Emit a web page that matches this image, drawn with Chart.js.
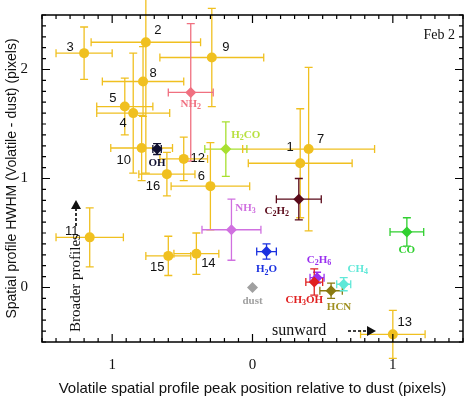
<!DOCTYPE html>
<html><head><meta charset="utf-8">
<script src="https://cdn.jsdelivr.net/npm/chart.js@4"></script>
<style>body{margin:0;background:#fff}#w{width:474px;height:402px}</style>
</head><body><div id="w"><canvas id="c"></canvas></div>
<script>
const names = ["3","2","9","8","NH2","5","4","10","OH","12","H2CO","16","6","7","1","C2H2","NH3","11","15","14","H2O","dust","C2H6","CH3OH","HCN","CH4","CO","13"];
const xs =   [1.2,0.76,0.29,0.78,0.44,0.91,0.85,0.79,0.68,0.49,0.19,0.61,0.3,-0.4,-0.34,-0.33,0.15,1.16,0.6,0.4,-0.1,0,-0.46,-0.44,-0.56,-0.65,-1.1,-1.0];
const ys =   [2.15,2.25,2.11,1.89,1.79,1.66,1.6,1.28,1.27,1.18,1.27,1.04,0.93,1.27,1.14,0.81,0.53,0.46,0.29,0.31,0.33,0,0.09,0.05,-0.03,0.03,0.51,-0.43];
const xerr = [0.2,0.39,0.37,0.29,0.16,0.2,0.26,0.22,0.03,0.17,0.15,0.2,0.28,0.47,0.37,0.16,0.21,0.24,0.16,0.16,0.07,0,0.05,0.06,0.08,0.05,0.12,0.23];
const yerr = [0.24,1.2,0.45,0.32,0.63,0.26,0.55,0.3,0.05,0.2,0.25,0.2,0.4,0.75,0.5,0.19,0.28,0.27,0.18,0.19,0.07,0,0.05,0.12,0.07,0.06,0.13,0.22];
const xTicks = [1,0,-1];
const yTicks = [0,1,2];
const Y = '#f0c020';
const colors = [Y,Y,Y,Y,'#f07080',Y,Y,Y,'#101030',Y,'#a8e030',Y,Y,Y,Y,'#5a0a1a','#d070e0',Y,Y,Y,'#1a30e0','#a0a0a0','#9a30f0','#e02020','#8a7a10','#60e8d8','#30d030',Y];
const labelPos = {"3":[-14,-6],"2":[12,-12],"9":[14,-10],"8":[10,-8],"5":[-12,-8],"4":[-10,10],"10":[-18,12],"12":[14,0],"16":[-14,12],"6":[-9,-10],"7":[12,-10],"1":[-10,-16],"11":[-18,-6],"15":[-11,12],"14":[12,10],"13":[12,-12],
 "NH2":[0,12],"OH":[0,14],"H2CO":[20,-14],"C2H2":[-22,12],"NH3":[14,-22],"H2O":[0,18],"dust":[0,14],"C2H6":[2,-18],"CH3OH":[-10,18],"HCN":[8,16],"CH4":[14,-15],"CO":[0,18]};
const chemColors = {"NH2":'#f07080',"OH":'#101030',"H2CO":'#b8e040',"C2H2":'#5a0a1a',"NH3":'#d070e0',"H2O":'#1a30e0',"dust":'#a0a0a0',"C2H6":'#9a30f0',"CH3OH":'#e02020',"HCN":'#a09020',"CH4":'#60e8d8',"CO":'#30d030'};

function drawChem(ctx, s, x, y, col){
  ctx.fillStyle = col;
  const parts = s.match(/[A-Za-z]+|\d+/g);
  let w = 0; parts.forEach(p=>{ctx.font = /\d/.test(p)?'bold 8px "Liberation Serif"':'bold 11px "Liberation Serif"'; w+=ctx.measureText(p).width;});
  let cx = x - w/2;
  ctx.textAlign='left'; ctx.textBaseline='middle';
  parts.forEach(p=>{const sub=/\d/.test(p); ctx.font = sub?'bold 8px "Liberation Serif"':'bold 11px "Liberation Serif"'; ctx.fillText(p,cx,y+(sub?3:0)); cx+=ctx.measureText(p).width;});
}

const deco = {
  id:'deco',
  beforeDatasetsDraw(chart){
    const {ctx, scales:{x,y}} = chart;
    ctx.save(); ctx.lineWidth=1.3;
    for(let i=0;i<names.length;i++){
      if(names[i]==='dust') continue;
      const px=x.getPixelForValue(xs[i]), py=y.getPixelForValue(ys[i]);
      const x1=x.getPixelForValue(xs[i]-xerr[i]), x2=x.getPixelForValue(xs[i]+xerr[i]);
      const y1=y.getPixelForValue(ys[i]-yerr[i]), y2=y.getPixelForValue(ys[i]+yerr[i]);
      ctx.strokeStyle=colors[i]; ctx.beginPath();
      ctx.moveTo(x1,py);ctx.lineTo(x2,py);ctx.moveTo(px,y1);ctx.lineTo(px,y2);
      ctx.moveTo(x1,py-4);ctx.lineTo(x1,py+4);ctx.moveTo(x2,py-4);ctx.lineTo(x2,py+4);
      ctx.moveTo(px-4,y1);ctx.lineTo(px+4,y1);ctx.moveTo(px-4,y2);ctx.lineTo(px+4,y2);
      ctx.stroke();
    }
    ctx.restore();
  },
  afterDraw(chart){
    const {ctx, chartArea:a, scales:{x,y}} = chart;
    ctx.save();
    ctx.strokeStyle='#000'; ctx.lineWidth=1.5; ctx.strokeRect(a.left,a.top,a.right-a.left,a.bottom-a.top);
    ctx.lineWidth=1.2; ctx.beginPath();
    for(let k=-15;k<=15;k++){const v=k/10,p=x.getPixelForValue(v),L=(k%10===0)?8:4;
      ctx.moveTo(p,a.bottom);ctx.lineTo(p,a.bottom-L);ctx.moveTo(p,a.top);ctx.lineTo(p,a.top+L);}
    for(let k=-5;k<=25;k++){const v=k/10,p=y.getPixelForValue(v),L=(k%10===0)?8:4;
      ctx.moveTo(a.left,p);ctx.lineTo(a.left+L,p);ctx.moveTo(a.right,p);ctx.lineTo(a.right-L,p);}
    ctx.stroke();
    for(let i=0;i<names.length;i++){
      const n=names[i],px=x.getPixelForValue(xs[i]),py=y.getPixelForValue(ys[i]),o=labelPos[n];
      if(!o) continue;
      if(chemColors[n]) drawChem(ctx,n,px+o[0],py+o[1],chemColors[n]);
      else {ctx.fillStyle='#111';ctx.font='13px "Liberation Sans"';ctx.textAlign='center';ctx.textBaseline='middle';ctx.fillText(n,px+o[0],py+o[1]);}
    }
    ctx.fillStyle='#111';ctx.font='14px "Liberation Serif"';ctx.textAlign='right';ctx.textBaseline='middle';
    ctx.fillText('Feb 2',a.right-8,a.top+20);
    ctx.font='16px "Liberation Serif"';ctx.textAlign='left';
    ctx.fillText('sunward',272,331);
    ctx.setLineDash([3,2]);ctx.lineWidth=1.6;ctx.beginPath();ctx.moveTo(348,331);ctx.lineTo(368,331);ctx.stroke();
    ctx.setLineDash([]);ctx.beginPath();ctx.moveTo(376,331);ctx.lineTo(367,326);ctx.lineTo(367,336);ctx.closePath();ctx.fill();
    ctx.save();ctx.translate(76,332);ctx.rotate(-Math.PI/2);ctx.font='15px "Liberation Serif"';ctx.textAlign='left';
    ctx.fillText('Broader profiles',0,0);
    const tw=ctx.measureText('Broader profiles').width;
    ctx.setLineDash([3,2]);ctx.beginPath();ctx.moveTo(tw+8,0);ctx.lineTo(tw+26,0);ctx.stroke();
    ctx.setLineDash([]);ctx.beginPath();ctx.moveTo(tw+34,0);ctx.lineTo(tw+25,-5);ctx.lineTo(tw+25,5);ctx.closePath();ctx.fill();
    ctx.restore();
    ctx.restore();
  }
};

new Chart(document.getElementById('c'),{
  type:'scatter',
  data:{datasets:[{
    data: xs.map((v,i)=>({x:v,y:ys[i]})),
    backgroundColor: colors, borderColor: colors,
    pointStyle: names.map(n=>/^\d+$/.test(n)?'circle':'rectRot'),
    pointRadius: names.map(n=>/^\d+$/.test(n)?5:5.5), pointBorderWidth:0
  }]},
  options:{
    responsive:true, maintainAspectRatio:false, animation:false,
    layout:{padding:{top:1,right:11,left:0,bottom:0}},
    plugins:{legend:{display:false},tooltip:{enabled:false}},
    scales:{
      x:{type:'linear',reverse:true,min:-1.5,max:1.5,
        grid:{display:false},border:{display:false},
        afterBuildTicks(s){s.ticks=xTicks.map(v=>({value:v}));},
        ticks:{callback:v=>Math.abs(v).toString(),color:'#111',font:{size:15,family:'Liberation Serif'},padding:6},
        title:{display:true,text:'Volatile spatial profile peak position relative to dust (pixels)',color:'#111',font:{size:15,family:'Liberation Sans'},padding:{top:0}}},
      y:{type:'linear',min:-0.5,max:2.5,
        grid:{display:false},border:{display:false},
        afterBuildTicks(s){s.ticks=yTicks.map(v=>({value:v}));},
        afterFit(s){s.width=42;},
        ticks:{callback:v=>v.toString(),color:'#111',font:{size:15,family:'Liberation Serif'},padding:6},
        title:{display:true,text:'Spatial profile HWHM (Volatile - dust) (pixels)',color:'#111',font:{size:14,family:'Liberation Sans'},padding:{bottom:0}}}
    }
  },
  plugins:[deco]
});
</script></body></html>
